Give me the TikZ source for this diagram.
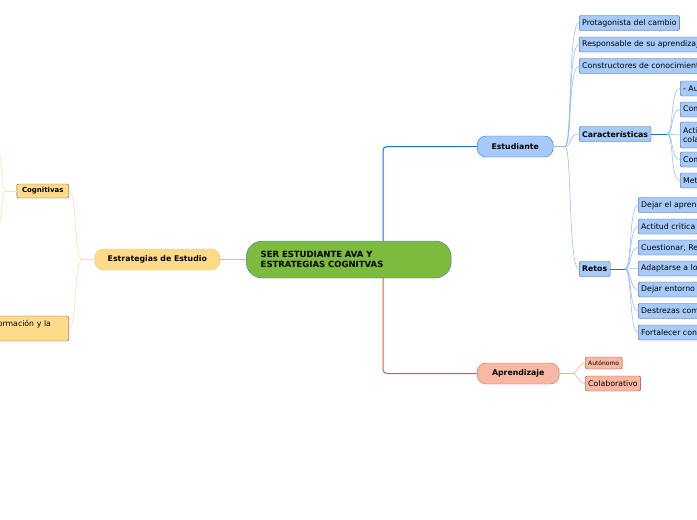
\documentclass[tikz,border=0pt]{standalone}
\usepackage{fontspec}
\setmainfont{DejaVu Sans}
\definecolor{bfill}{HTML}{A6CBFA}\definecolor{bline}{HTML}{5A7FB5}\definecolor{bconn}{HTML}{1F6FD6}\definecolor{bthin}{HTML}{8DB6F0}
\definecolor{ofill}{HTML}{F8B9A4}\definecolor{oline}{HTML}{D9603A}\definecolor{othin}{HTML}{F5A889}
\definecolor{yfill}{HTML}{FFDA8A}\definecolor{yline}{HTML}{F5C040}\definecolor{ythin}{HTML}{FBE2A8}
\definecolor{gfill}{HTML}{7CBB3C}\definecolor{gline}{HTML}{3A78C4}
\begin{document}
\begin{tikzpicture}[x=1pt,y=-1pt,
 leaf/.style={draw=#1!70!black,rounded corners=2pt,anchor=west,font=\fontsize{7.8}{9}\selectfont,inner xsep=3pt,inner ysep=0pt,minimum height=15pt},
 bleaf/.style={leaf=bline,fill=bfill},
 oleaf/.style={leaf=oline,fill=ofill},
 yleaf/.style={leaf=gray,fill=yfill},
 mainn/.style={rounded corners=9pt,font=\bfseries\fontsize{7.8}{9}\selectfont,minimum height=21pt,inner xsep=10pt,anchor=west},
 bc/.style={draw=bthin,line width=0.5pt},
 oc/.style={draw=othin,line width=0.5pt},
 yc/.style={draw=ythin,line width=0.6pt}]
\fill[white] (0,0) rectangle (697,520);
\clip (0,0) rectangle (697,520);
% main connectors
\draw[bconn,line width=1pt,rounded corners=4pt] (383,250) |- (477,146.5);
\draw[oline,line width=1pt,rounded corners=4pt] (383,270) |- (477,373.5);
\draw[yline,line width=1.5pt] (250,259.5) -- (215,259.5);
% central
\node[mainn,draw=gline,fill=gfill,minimum width=205pt,minimum height=37pt,align=left,font=\bfseries\fontsize{8.5}{10}\selectfont,text width=176pt,inner xsep=14pt,rounded corners=16pt] (c) at (246,259.5) {SER ESTUDIANTE AVA Y\\ESTRATEGIAS COGNITVAS};
\node[mainn,draw=bconn,fill=bfill,minimum width=76pt] (est) at (477,146.5) {Estudiante};
\node[mainn,draw=oline,fill=ofill,minimum width=82pt] (apr) at (477,373.5) {Aprendizaje};
\node[mainn,draw=yline,fill=yfill,minimum width=125pt,anchor=east] (ee) at (220,259.5) {Estrategias de Estudio};
\node[yleaf,anchor=east,font=\bfseries\fontsize{7}{8}\selectfont,minimum height=14pt,minimum width=52pt] (cog) at (69,191) {Cognitivas};
\node[yleaf,anchor=east,minimum height=25pt,minimum width=84pt,align=left,text width=78pt,inner xsep=3pt] (inf) at (69,328.5) {Información y la\\[2pt]\mbox{}};
% Estudiante children
\node[bleaf] (e1) at (579,23) {Protagonista del cambio};
\node[bleaf] (e2) at (579,44.5) {Responsable de su aprendizaje};
\node[bleaf] (e3) at (579,66) {Constructores de conocimiento};
\node[bleaf,font=\bfseries\fontsize{7.8}{9}\selectfont] (car) at (579,134) {Características};
\node[bleaf,font=\bfseries\fontsize{7.8}{9}\selectfont] (ret) at (579,269) {Retos};
\draw[bc] (est.east) -- (565,146.5);
\foreach \n in {e1,e2,e3,car,ret}{\draw[bc] (565,146.5) .. controls (572,146.5) and (568,0 |- \n.west) .. (\n.west);}
% Caracteristicas children
\node[bleaf] (k1) at (680,88.5) {- Autónomo};
\node[bleaf] (k2) at (680,109.5) {Comprometido};
\node[bleaf,align=left,minimum height=26pt] (k3) at (680,135) {Actitud de trabajo\\colaborativo};
\node[bleaf] (k4) at (680,159.5) {Comunicativo};
\node[bleaf] (k5) at (680,180.5) {Metódico};
\draw[bconn,line width=0.8pt] (car.east) -- (667,134);
\foreach \n in {k1,k2,k3,k4,k5}{\draw[bc] (667,134) .. controls (674,134) and (670,0 |- \n.west) .. (\n.west);}
% Retos children
\node[bleaf] (r1) at (638,205) {Dejar el aprendizaje tradicional};
\node[bleaf] (r2) at (638,226.5) {Actitud critica};
\node[bleaf] (r3) at (638,247.5) {Cuestionar, Reflexionar};
\node[bleaf] (r4) at (638,268.5) {Adaptarse a los cambios};
\node[bleaf] (r5) at (638,289.5) {Dejar entorno de confort};
\node[bleaf] (r6) at (638,311) {Destrezas comunicativas};
\node[bleaf] (r7) at (638,332.5) {Fortalecer conocimientos};
\draw[bconn,line width=0.8pt] (ret.east) -- (625,269);
\foreach \n in {r1,r2,r3,r4,r5,r6,r7}{\draw[bc] (625,269) .. controls (632,269) and (629,0 |- \n.west) .. (\n.west);}
% Aprendizaje children
\node[oleaf,font=\fontsize{6}{7}\selectfont,minimum height=12pt] (a1) at (585,363) {Autónomo};
\node[oleaf] (a2) at (585,383.5) {Colaborativo};
\draw[oc] (apr.east) -- (572,373.5);
\foreach \n in {a1,a2}{\draw[oc] (572,373.5) .. controls (578,373.5) and (578,0 |- \n.west) .. (\n.west);}
% Estrategias children
\draw[yc] (ee.west) -- (82,259.5);
\foreach \n in {cog,inf}{\draw[yc] (82,259.5) .. controls (74,259.5) and (77,0 |- \n.east) .. (\n.east);}
\coordinate (cu) at (-2,150); \coordinate (cd) at (-2,230);
\draw[yc] (cog.west) -- (6,191);
\draw[yc] (6,191) .. controls (1,191) and (3,160) .. (cu);
\draw[yc] (6,191) .. controls (1,191) and (3,215) .. (cd);
\end{tikzpicture}
\end{document}
